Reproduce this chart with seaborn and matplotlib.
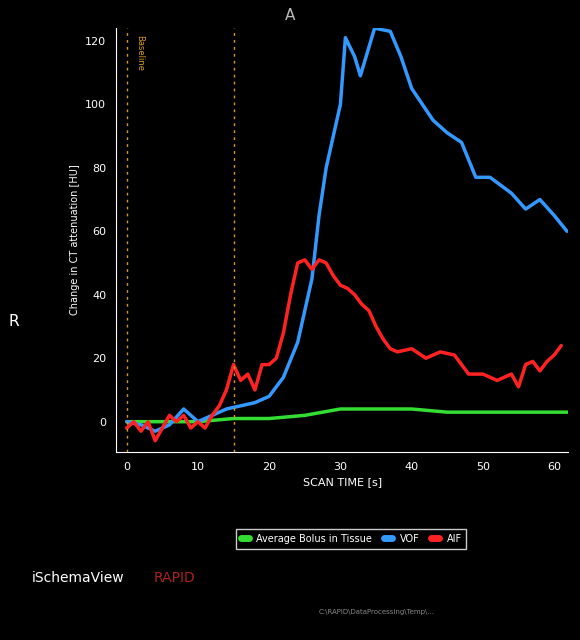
import matplotlib
matplotlib.use('Agg')
import matplotlib.pyplot as plt
import seaborn as sns
import pandas as pd

sns.set_style('dark')

# data
vof_t = [0, 2, 4, 6, 8, 10, 12, 14, 16, 18, 20, 22, 24, 26, 27, 28, 30, 30.7, 32, 32.8, 34, 34.8, 37, 38.5, 40, 43, 45, 47, 49, 51, 54, 56, 58, 60, 61.8]
vof_v = [0, -1, -3, -1, 4, 0, 2, 4, 5, 6, 8, 14, 25, 45, 65, 80, 100, 121, 115, 109, 118, 124, 123, 115, 105, 95, 91, 88, 77, 77, 72, 67, 70, 65, 60]
aif_t = [0, 1, 2, 3, 4, 5, 6, 7, 8, 9, 10, 11, 12, 13, 14, 15, 16, 17, 18, 19, 20, 21, 22, 23, 24, 25, 26, 27, 28, 29, 30, 31, 32, 33, 34, 35, 36, 37, 38, 40, 42, 44, 46, 48, 50, 52, 54, 55, 56, 57, 58, 59, 60, 61]
aif_v = [-2, 0, -3, 0, -6, -2, 2, 0, 2, -2, 0, -2, 2, 5, 10, 18, 13, 15, 10, 18, 18, 20, 28, 40, 50, 51, 48, 51, 50, 46, 43, 42, 40, 37, 35, 30, 26, 23, 22, 23, 20, 22, 21, 15, 15, 13, 15, 11, 18, 19, 16, 19, 21, 24]
bolus_t = [0, 10, 15, 20, 25, 30, 35, 40, 45, 50, 62]
bolus_v = [0, 0, 1, 1, 2, 4, 4, 4, 3, 3, 3]
baseline_t = [0, 15]

fig = plt.figure(figsize=(5.8, 6.4), dpi=100, facecolor='black')
ax = fig.add_axes([0.2, 0.294, 0.78, 0.662])
ax.set_facecolor('black')

sns.lineplot(x=bolus_t, y=bolus_v, ax=ax, color='#33dd33', lw=2.5)
sns.lineplot(x=vof_t, y=vof_v, ax=ax, color='#3399ff', lw=2.5)
sns.lineplot(x=aif_t, y=aif_v, ax=ax, color='#ff2222', lw=2.5)
for t in baseline_t:
    ax.axvline(t, color='#d89a20', ls=(0, (2, 3)), lw=1)
ax.text(1.2, 122, 'Baseline', rotation=270, color='#d89a20', fontsize=6, va='top')

ax.set_xlim(-1.5, 62)
ax.set_ylim(-9.5, 124)
ax.set_xticks(range(0, 61, 10))
ax.set_yticks(range(0, 121, 20))
ax.tick_params(colors='white', labelsize=8)
ax.grid(False)
for s in ['top', 'right']:
    ax.spines[s].set_visible(False)
for s in ['left', 'bottom']:
    ax.spines[s].set_visible(True)
    ax.spines[s].set_color('white')
ax.set_xlabel('SCAN TIME [s]', color='white', fontsize=8)
ax.set_ylabel('Change in CT attenuation [HU]', color='white', fontsize=7)
fig.text(0.5, 0.975, 'A', color='#bbbbbb', fontsize=11, ha='center', va='center')

lines = ax.get_lines()[:3]
leg = ax.legend(lines, ['Average Bolus in Tissue', 'VOF', 'AIF'], loc='center',
                bbox_to_anchor=(0.52, -0.205), ncol=3, fontsize=7,
                frameon=True, facecolor='black', edgecolor='white', handlelength=0.8,
                columnspacing=1.2, borderpad=0.5, fancybox=False)
leg.get_frame().set_width(390)
for line in leg.get_lines():
    line.set_linewidth(5)
for txt in leg.get_texts():
    txt.set_color('white')

fig.text(0.015, 0.49, 'R', color='white', fontsize=11)
fig.text(0.055, 0.09, 'iSchemaView', color='white', fontsize=10)
fig.text(0.265, 0.09, 'RAPID', color='#aa2222', fontsize=10)
fig.text(0.55, 0.04, 'C:\\RAPID\\DataProcessing\\Temp\\...', color='#888888', fontsize=5)

fig.savefig('out.png', facecolor='black')
